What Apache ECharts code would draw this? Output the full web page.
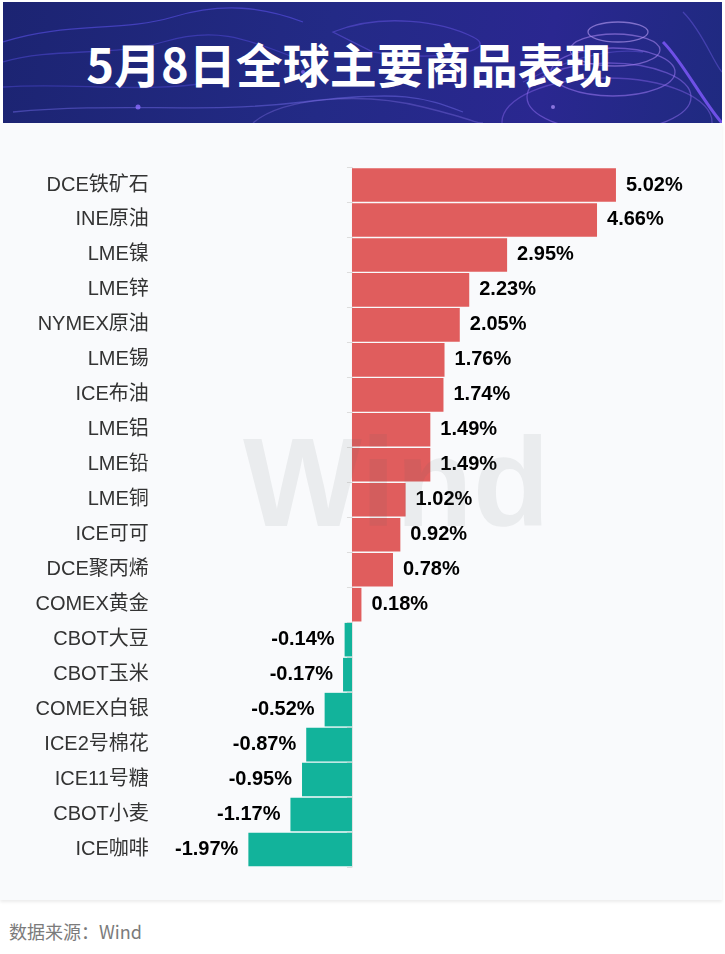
<!DOCTYPE html>
<html>
<head>
<meta charset="utf-8">
<script src="https://cdn.jsdelivr.net/npm/echarts@6/dist/echarts.min.js"></script>
<style>
  html, body { margin: 0; padding: 0; background: #fff; }
  body { width: 725px; height: 954px; position: relative; overflow: hidden;
         font-family: "Liberation Sans", Arial, "Noto Sans CJK SC", sans-serif; }
  #banner { position: absolute; left: 3px; top: 2px; width: 719px; height: 121px;
            background: linear-gradient(100deg, #1c2472 0%, #232a86 45%, #2a2790 75%, #1f2a80 100%);
            overflow: hidden; }
  #banner svg { position: absolute; left: 0; top: 0; }
  #title { position: absolute; left: 0; top: 0; width: 692px; height: 121px; line-height: 121px;
           text-align: center; color: #fff; font-size: 47px; font-weight: bold; letter-spacing: 0px;
           font-family: "Noto Sans CJK SC", sans-serif; }
  #panel { position: absolute; left: 0; top: 123px; width: 722px; height: 777px;
           background: #f9fafc; box-shadow: 0 2px 3px rgba(0,0,0,0.08); }
  #source { position: absolute; left: 9px; top: 918px; font-size: 18px; color: #7b7b7b;
            font-family: "Noto Sans CJK SC", sans-serif; }
  #main { position: absolute; left: 0; top: 0; width: 725px; height: 954px; }
</style>
</head>
<body>
<div id="banner">
  <svg width="719" height="121" viewBox="0 0 719 121">
    <g fill="none" stroke-width="1.3">
      <path d="M0,40 C60,20 120,30 170,15 S260,5 300,20" stroke="rgba(90,80,230,0.6)"/>
      <path d="M0,60 C50,45 110,55 160,40 S240,35 290,55" stroke="rgba(90,80,230,0.45)"/>
      <path d="M10,110 C120,100 200,112 300,100 S420,95 460,110" stroke="rgba(120,110,240,0.45)"/>
      <path d="M0,85 C70,80 140,92 210,80" stroke="rgba(90,80,230,0.4)"/>
      <path d="M330,30 C380,10 440,20 470,35 S430,60 370,50 Z" stroke="rgba(110,90,240,0.45)"/>
      <path d="M250,121 C280,95 360,90 420,105 S470,121 480,121" stroke="rgba(140,120,240,0.35)"/>
      <ellipse cx="615" cy="30" rx="30" ry="10" stroke="rgba(200,170,255,0.55)"/>
      <ellipse cx="612" cy="48" rx="45" ry="16" stroke="rgba(190,150,255,0.5)"/>
      <ellipse cx="610" cy="70" rx="62" ry="24" stroke="rgba(170,130,255,0.5)"/>
      <ellipse cx="606" cy="95" rx="82" ry="34" stroke="rgba(160,120,255,0.45)"/>
      <ellipse cx="604" cy="120" rx="105" ry="44" stroke="rgba(150,110,250,0.4)"/>
      <path d="M660,40 C680,60 700,100 719,121" stroke="rgba(130,90,255,0.8)" stroke-width="3"/>
      <path d="M520,80 C560,60 600,45 640,50" stroke="rgba(120,100,240,0.35)"/>
      <path d="M680,10 C700,30 710,60 719,70" stroke="rgba(120,100,240,0.4)"/>
    </g>
    <circle cx="135" cy="105" r="2.5" fill="rgba(140,110,255,0.8)"/>
    <circle cx="300" cy="70" r="2" fill="rgba(140,110,255,0.7)"/>
    <circle cx="550" cy="105" r="2" fill="rgba(180,150,255,0.7)"/>
  </svg>
  <div id="title">5月8日全球主要商品表现</div>
</div>
<div id="panel"></div>
<div id="source">数据来源：Wind</div>
<div id="main"></div>
<script>
  var categories = ['DCE铁矿石', 'INE原油', 'LME镍', 'LME锌', 'NYMEX原油', 'LME锡', 'ICE布油',
    'LME铝', 'LME铅', 'LME铜', 'ICE可可', 'DCE聚丙烯', 'COMEX黄金', 'CBOT大豆', 'CBOT玉米',
    'COMEX白银', 'ICE2号棉花', 'ICE11号糖', 'CBOT小麦', 'ICE咖啡'];
  var changes = [5.02, 4.66, 2.95, 2.23, 2.05, 1.76, 1.74, 1.49, 1.49, 1.02, 0.92, 0.78, 0.18,
    -0.14, -0.17, -0.52, -0.87, -0.95, -1.17, -1.97];

  var upColor = '#e05d5d';
  var downColor = '#12b39b';

  var chart = echarts.init(document.getElementById('main'));
  chart.setOption({
    animation: false,
    backgroundColor: 'transparent',
    grid: { left: 246.8, right: 83.8, top: 167.5, bottom: 87, containLabel: false, outerBoundsMode: 'none' },
    xAxis: {
      type: 'value', min: -2, max: 5.5, show: false
    },
    yAxis: {
      type: 'category',
      inverse: true,
      data: categories,
      position: 'left',
      axisLine: { onZero: true, lineStyle: { color: '#e2e2e2', width: 1 } },
      axisTick: { show: true, length: 5, lineStyle: { color: '#dddddd' } },
      axisLabel: {
        margin: 98, fontSize: 20, color: '#333', padding: [5, 0, 0, 0],
        fontFamily: '"Liberation Sans", Arial, "Noto Sans CJK SC", sans-serif'
      },
      splitLine: { show: false }
    },
    series: [{
      type: 'bar',
      barCategoryGap: '4%',
      data: changes.map(function (v) {
        return {
          value: v,
          itemStyle: { color: v >= 0 ? upColor : downColor },
          label: { position: v >= 0 ? 'right' : 'left' }
        };
      }),
      label: {
        show: true,
        distance: 10,
        fontSize: 20,
        fontWeight: 'bold',
        color: '#000',
        padding: [5, 0, 0, 0],
        fontFamily: '"Liberation Sans", Arial, sans-serif',
        formatter: function (p) { return p.value.toFixed(2) + '%'; }
      }
    }],
    graphic: [{
      type: 'text',
      left: 243,
      top: 428,
      z: 100,
      silent: true,
      style: {
        text: 'Wind',
        font: 'bold 126px "Liberation Sans", Arial, sans-serif',
        fill: 'rgba(90,95,105,0.09)'
      }
    }]
  });
</script>
</body>
</html>
